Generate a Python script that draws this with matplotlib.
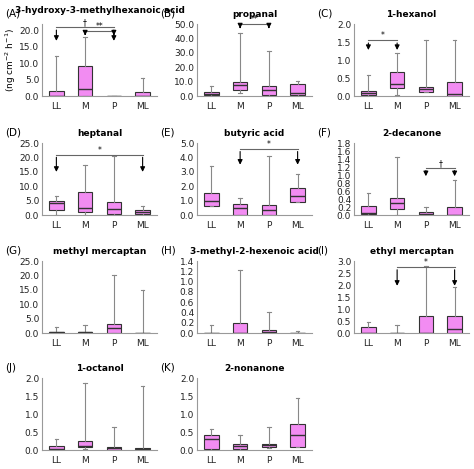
import matplotlib
matplotlib.use("Agg")
import matplotlib.pyplot as plt
from matplotlib.ticker import FormatStrFormatter, MultipleLocator

groups = ["LL", "M", "P", "ML"]
titles = ["3-hydroxy-3-methylhexanoic acid", "propanal", "1-hexanol", "heptanal",
          "butyric acid", "2-decanone", "methyl mercaptan", "3-methyl-2-hexenoic acid",
          "ethyl mercaptan", "1-octanol", "2-nonanone"]
letters = ["(A)", "(B)", "(C)", "(D)", "(E)", "(F)", "(G)", "(H)", "(I)", "(J)", "(K)"]
ylims = [(22, 5), (50, 10), (2.0, 0.5), (25, 5), (5, 1), (1.8, 0.2), (25, 5), (1.4, 0.2),
         (3.0, 0.5), (2.0, 0.5), (2.0, 0.5)]
# (whislo, q1, med, q3, whishi) for LL, M, P, ML
stats = [
    [(0, 0, 0, 1.5, 12.2), (0, 0, 2, 9.3, 18), (0, 0, 0, 0, 0), (0, 0, 0, 1.3, 5.6)],
    [(0, 0.5, 1.5, 3, 7), (2, 4.5, 7.5, 9.5, 44), (0, 0.5, 4, 7, 31), (0, 0.5, 2, 8, 10.5)],
    [(0, 0.02, 0.08, 0.13, 0.57), (0.02, 0.22, 0.32, 0.68, 1.2), (0.1, 0.12, 0.2, 0.25, 1.55), (0, 0, 0.05, 0.4, 1.55)],
    [(0, 1.8, 4.3, 5, 6.5), (0, 1, 2.3, 8, 17.5), (0, 0.3, 2, 4.4, 20.5), (0, 0.3, 1, 1.8, 3)],
    [(0.6, 0.65, 1.0, 1.55, 3.4), (0, 0, 0.5, 0.75, 1.15), (0, 0, 0.35, 0.72, 4.1), (0.9, 0.9, 1.35, 1.9, 2.85)],
    [(0, 0.02, 0.05, 0.22, 0.55), (0, 0.15, 0.3, 0.43, 1.45), (0, 0, 0.02, 0.07, 0.2), (0, 0, 0, 0.2, 0.88)],
    [(0, 0, 0.3, 0.5, 2), (0, 0, 0.3, 0.5, 2.7), (0, 0, 1.8, 3.2, 20.2), (0, 0, 0, 0, 14.9)],
    [(0, 0, 0, 0, 0.16), (0, 0, 0, 0.19, 1.22), (0, 0, 0.02, 0.05, 0.4), (0, 0, 0, 0, 0.03)],
    [(0, 0, 0, 0.24, 0.45), (0, 0, 0, 0, 0.33), (0, 0, 0, 0.72, 2.8), (0, 0, 0.15, 0.7, 1.9)],
    [(0, 0, 0.02, 0.1, 0.3), (0.02, 0.07, 0.1, 0.24, 1.85), (0, 0, 0.05, 0.08, 0.65), (0, 0.02, 0.04, 0.06, 1.78)],
    [(0, 0.02, 0.3, 0.42, 0.57), (0, 0.02, 0.1, 0.16, 0.42), (0.05, 0.07, 0.14, 0.18, 0.65), (0.08, 0.08, 0.42, 0.72, 1.45)],
]
# brackets: panel, from idx, to idx, bar y, arrow-tip y, label
brackets = [
    (0, 0, 2, 21.0, 16.0, "†"), (0, 1, 2, 20.0, 18.5, "**"),
    (1, 1, 2, 50.0, 45.0, "**"), (2, 0, 1, 1.55, 1.2, "*"),
    (3, 0, 3, 21.0, 14.0, "*"), (4, 1, 3, 4.6, 3.3, "*"),
    (5, 2, 3, 1.18, 0.9, "†"), (8, 1, 3, 2.75, 1.85, "*"),
]

plt.rcParams['font.family'] = ['DejaVu Sans']
fig = plt.figure(figsize=(4.74, 4.69), dpi=100)
W, H = 474, 469
cols_x = [42, 197, 354]
rows_y = [24, 143, 261, 378]
aw, ah = 115, 72
axes = []
for i in range(11):
    r, c = divmod(i, 3)
    ax = fig.add_axes([cols_x[c] / W, 1 - (rows_y[r] + ah) / H, aw / W, ah / H])
    axes.append(ax)
    bx = [dict(whislo=s[0], q1=s[1], med=s[2], q3=s[3], whishi=s[4], label=g) for s, g in zip(stats[i], groups)]
    ax.bxp(bx, positions=range(4), widths=0.5, showfliers=False, patch_artist=True,
           boxprops=dict(facecolor="#F28CF2", edgecolor="#333333", linewidth=0.8),
           medianprops=dict(color="#333333", linewidth=1.0),
           whiskerprops=dict(color="#888888", linewidth=0.8),
           capprops=dict(color="#888888", linewidth=0.8), capwidths=0.12)
    top, step = ylims[i]
    ax.set_ylim(0, top)
    ax.set_xlim(-0.5, 3.5)
    ax.yaxis.set_major_locator(MultipleLocator(step))
    ax.yaxis.set_major_formatter(FormatStrFormatter("%.1f"))
    ax.set_xticks(range(4))
    ax.set_xticklabels(groups)
    ax.tick_params(axis='both', labelsize=6.5, length=0, colors="#222222")
    ax.tick_params(axis='x', pad=4)
    ax.tick_params(axis='y', pad=2)
    for s in ["top", "right"]:
        ax.spines[s].set_visible(False)
    for s in ["left", "bottom"]:
        ax.spines[s].set_color("#999999")
    ax.set_title(titles[i], fontsize=6.5, fontweight="bold", pad=8 if i == 0 else 5)
    ax.text(-0.32, 1.07, letters[i], transform=ax.transAxes, fontsize=7.5, va="bottom")

axes[0].set_ylabel("(ng cm$^{-2}$ h$^{-1}$)", fontsize=6.5, labelpad=1)

for p, a, b, y, tip, lab in brackets:
    ax = axes[p]
    ax.plot([a, b], [y, y], color="#666666", lw=0.8, clip_on=False)
    for x in (a, b):
        ax.annotate("", xy=(x, tip), xytext=(x, y), annotation_clip=False,
                    arrowprops=dict(arrowstyle="-|>", color="black", lw=0.8, mutation_scale=7))
    lx = (a + b) / 2 if not (p == 0 and a == 0) else 1
    ax.text(lx, y, lab, ha="center", va="bottom", fontsize=5.5, clip_on=False)

fig.savefig("out.png", dpi=100)
